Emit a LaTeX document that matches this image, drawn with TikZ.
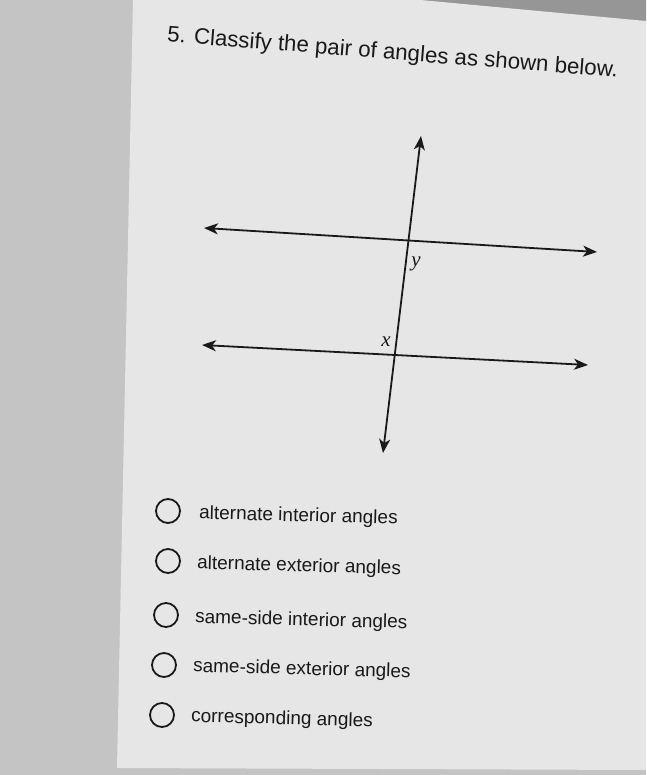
\documentclass[tikz,border=0pt]{standalone}
\usepackage{fontspec}
\setmainfont{Liberation Sans}
\newfontfamily\mathserif{Liberation Serif}
\usetikzlibrary{arrows.meta}
\definecolor{bggrey}{RGB}{196,196,196}
\definecolor{pagegrey}{RGB}{230,230,230}
\definecolor{bandgrey}{RGB}{150,150,150}
\definecolor{inkc}{RGB}{25,25,25}
\tikzset{
  geoline/.style={draw=inkc, line width=1.8pt, {Stealth[length=14pt,width=11pt,inset=4pt]}-{Stealth[length=14pt,width=11pt,inset=4pt]}},
  anglelabel/.style={font=\mathserif\itshape\fontsize{21}{21}\selectfont, text=inkc, inner sep=0pt},
  radio/.style={circle, draw=inkc, line width=1.8pt, minimum size=24pt, inner sep=0pt},
  choice/.style={anchor=west, inner sep=0pt, text=inkc, font=\fontsize{19}{21}\selectfont, rotate=-1.5},
  titletext/.style={anchor=west, inner sep=0pt, text=inkc, font=\fontsize{22.3}{25}\selectfont, rotate=-4.5}
}
\begin{document}
\begin{tikzpicture}[x=1pt,y=-1pt]
\useasboundingbox (0,0) rectangle (646,775);
% background and page
\fill[bggrey] (0,0) rectangle (646,775);
\fill[bandgrey] (420,0) -- (646,0) -- (646,22) -- cycle;
\fill[pagegrey] (133,0) -- (420,0) -- (646,21) -- (646,770) -- (117,768) -- cycle;
% title
\node[titletext] (title) at (167,36) {5. Classify the pair of angles as shown below.};
% geometry
\coordinate (L1a) at (204,228);
\coordinate (L1b) at (597,252);
\coordinate (L2a) at (202,345);
\coordinate (L2b) at (588,365);
\coordinate (Ta) at (421,136);
\coordinate (Tb) at (383,453);
\draw[geoline] (L1a) -- (L1b);
\draw[geoline] (L2a) -- (L2b);
\draw[geoline] (Ta) -- (Tb);
\node[anglelabel] (ylab) at (416,264) {y};
\node[anglelabel] (xlab) at (386,342) {x};
% choices
\node[radio] (r1) at (168,511) {};
\node[radio] (r2) at (168,561) {};
\node[radio] (r3) at (166,615) {};
\node[radio] (r4) at (164,665) {};
\node[radio] (r5) at (162,715) {};
\node[choice] (c1) at (199,514) {alternate interior angles};
\node[choice] (c2) at (197,564) {alternate exterior angles};
\node[choice] (c3) at (195,618) {same-side interior angles};
\node[choice] (c4) at (193,667) {same-side exterior angles};
\node[choice] (c5) at (191,717) {corresponding angles};
\end{tikzpicture}
\end{document}
